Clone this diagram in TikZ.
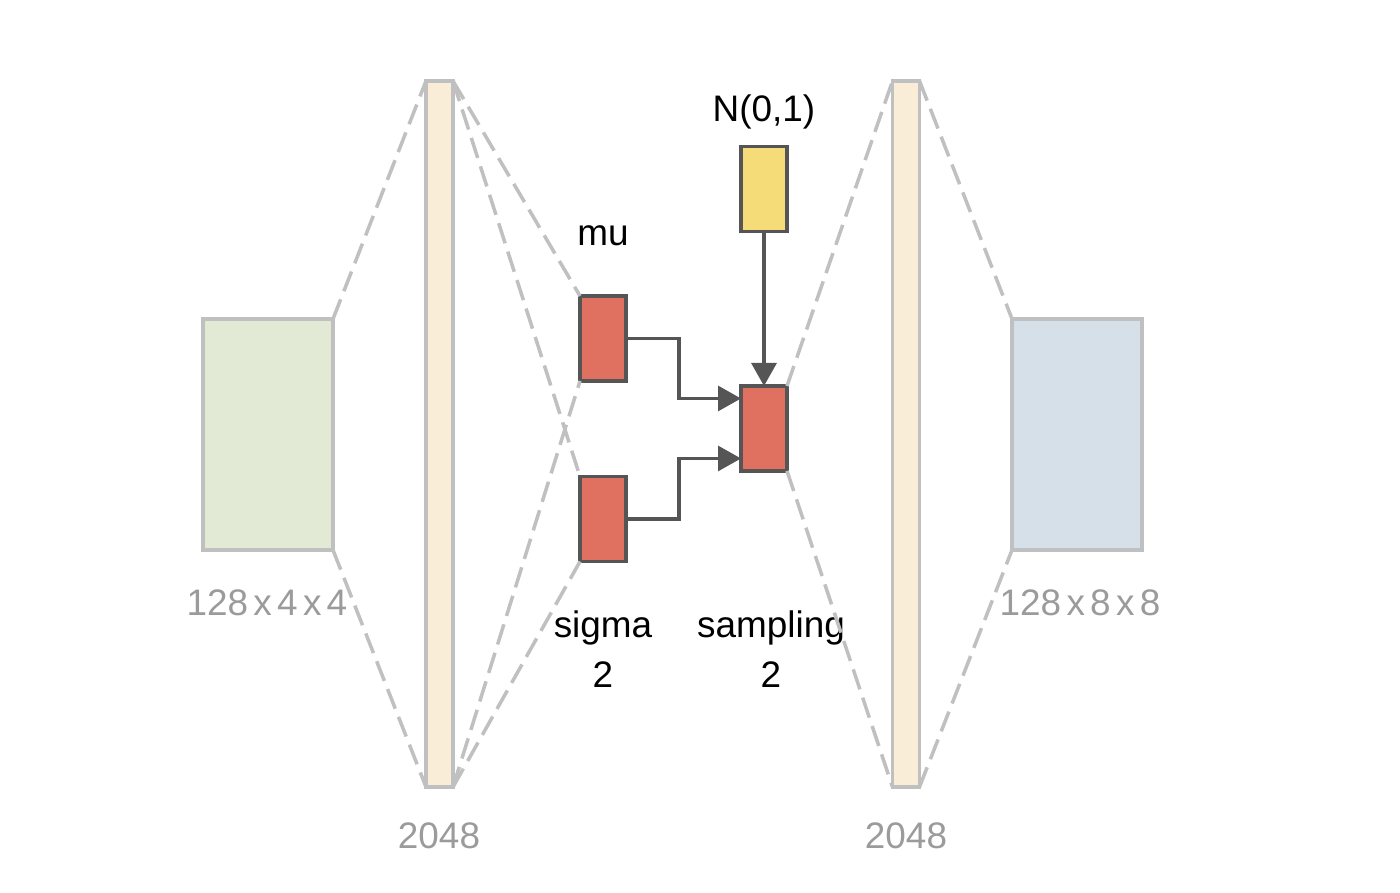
\documentclass[tikz,border=0pt]{standalone}
\usepackage{fontspec}
\setmainfont{Liberation Sans}
\usetikzlibrary{arrows.meta, positioning}
\definecolor{inkdark}{RGB}{85, 85, 85}
\definecolor{inkline}{RGB}{192, 192, 192}
\definecolor{inktext}{RGB}{155, 155, 155}
\definecolor{fillgreen}{RGB}{226, 233, 213}
\definecolor{fillbeige}{RGB}{249, 237, 216}
\definecolor{fillblue}{RGB}{214, 224, 232}
\definecolor{fillred}{RGB}{224, 112, 96}
\definecolor{fillyellow}{RGB}{245, 220, 120}
\newcommand{\dimfont}{\fontsize{10.5}{12}\selectfont\spaceskip=1.5pt plus 0.5pt\relax}
\tikzset{
    tensor/.style ={draw=inkline, line width=0.9pt, inner sep=0pt, outer sep=0pt,
                    minimum width=1.3cm, minimum height=2.31cm},
    dense/.style  ={draw=inkline, line width=0.9pt, fill=fillbeige, inner sep=0pt,
                    outer sep=0pt, minimum width=0.27cm, minimum height=7.06cm},
    unit/.style   ={draw=inkdark, line width=0.9pt, inner sep=0pt, outer sep=0pt,
                    minimum width=0.46cm, minimum height=0.85cm},
    link/.style   ={draw=inkline, line width=1pt, dash pattern=on 6pt off 2.5pt},
    ar/.style     ={-{Triangle[length=2.3mm, width=2.5mm]}, line width=0.9pt, draw=inkdark},
    dimlbl/.style ={font=\dimfont, text=inktext, inner sep=1pt},
    namelbl/.style={font=\fontsize{10.5}{14}\selectfont, align=center, inner sep=1pt}
}

\begin{document}
\begin{tikzpicture}[x=1cm, y=1cm]
  \useasboundingbox (0,0) rectangle (14,8.93);

  % encoder side
  \node[tensor, fill=fillgreen] (inp)  at (2.68, 4.585) {};
  \node[dense]                  (enc)  at (4.395, 4.59) {};
  \node[unit, fill=fillred]     (mu)   at (6.03, 5.545) {};
  \node[unit, fill=fillred]     (sig)  at (6.03, 3.74)  {};

  % sampling
  \node[unit, fill=fillyellow]  (noise) at (7.64, 7.04)  {};
  \node[unit, fill=fillred]     (samp)  at (7.64, 4.645) {};

  % decoder side
  \node[dense]                  (dec)  at (9.06, 4.59)  {};
  \node[tensor, fill=fillblue]  (out)  at (10.77, 4.585) {};

  % labels
  \node[dimlbl]  (inplbl)  at (2.67, 2.90)  {128 x 4 x 4};
  \node[dimlbl]  (enclbl)  at (4.39, 0.57)  {2048};
  \node[dimlbl]  (declbl)  at (9.06, 0.57)  {2048};
  \node[dimlbl]  (outlbl)  at (10.80, 2.90) {128 x 8 x 8};
  \node[namelbl] (mulbl)   at (6.03, 6.57)  {mu};
  \node[namelbl] (noiselbl) at (7.64, 7.81) {N(0,1)};
  \node[namelbl, anchor=north] (siglbl)  at (6.03, 2.86) {sigma\\2};
  \node[namelbl, anchor=north] (samplbl) at (7.71, 2.86) {sampling\\2};

  % dashed fan-in / fan-out
  \draw[link] (inp.north east) -- (enc.north west);
  \draw[link] (inp.south east) -- (enc.south west);
  \draw[link] (enc.north east) -- (mu.north west);
  \draw[link] (enc.north east) -- (sig.north west);
  \draw[link] (enc.south east) -- (mu.south west);
  \draw[link] (enc.south east) -- (sig.south west);
  \draw[link] (samp.north east) -- (dec.north west);
  \draw[link] (samp.south east) -- (dec.south west);
  \draw[link] (dec.north east) -- (out.north west);
  \draw[link] (dec.south east) -- (out.south west);

  % reparametrisation
  \draw[ar] (mu.east) -- ++(0.53,0) |- ([yshift=3mm]samp.west);
  \draw[ar] (sig.east) -- ++(0.53,0) |- ([yshift=-3mm]samp.west);
  \draw[ar] (noise.south) -- (samp.north);
\end{tikzpicture}
\end{document}
